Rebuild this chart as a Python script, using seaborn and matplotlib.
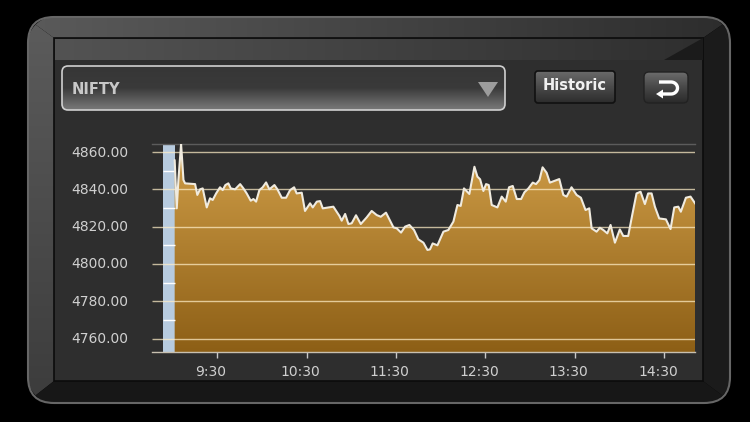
import numpy as np
import pandas as pd
import seaborn as sns
import matplotlib.pyplot as plt
from matplotlib.colors import LinearSegmentedColormap
from matplotlib.patches import FancyBboxPatch, Polygon
from matplotlib.transforms import ScaledTranslation

# minutes since midnight
minutes = [541.6, 543.0, 544.1, 545.9, 547.5, 548.6, 555.3, 556.8, 558.6, 560.4, 563.1, 565.3, 567.1, 569.4,
           572.0, 573.8, 575.6, 577.6, 579.2, 582.1, 585.5, 587.7, 589.9, 592.6, 594.4, 596.2, 598.4, 600.6,
           602.9, 605.1, 608.5, 610.5, 613.4, 616.3, 619.0, 621.7, 623.4, 626.8, 629.0, 632.4, 634.2, 636.9,
           639.1, 640.9, 648.0, 652.1, 653.6, 655.9, 658.1, 660.3, 663.2, 666.4, 670.4, 673.7, 677.1, 679.8,
           683.3, 686.0, 688.3, 690.5, 693.4, 696.1, 699.0, 702.1, 705.0, 708.4, 711.1, 712.8, 714.6, 717.8,
           721.8, 725.1, 728.5, 731.2, 733.4, 735.6, 739.2, 742.6, 744.6, 746.4, 748.6, 750.4, 752.2, 754.2,
           758.0, 760.9, 763.6, 765.8, 768.3, 771.0, 773.9, 776.1, 778.8, 781.7, 783.9, 786.2, 788.3, 791.0,
           793.2, 796.6, 799.5, 802.2, 804.4, 807.7, 811.1, 814.0, 817.1, 819.6, 821.2, 824.5, 826.7, 829.0,
           831.7, 833.9, 836.8, 840.1, 842.4, 845.7, 848.4, 851.3, 854.0, 856.9, 859.1, 861.4, 863.6, 866.5,
           871.0, 874.1, 876.6, 879.3, 881.0, 884.4, 887.5, 890.9]
prices = [4855.7, 4829.8, 4845.0, 4864.3, 4845.0, 4843.2, 4842.8, 4837.0, 4840.0, 4840.5, 4830.3, 4835.2, 4834.3, 4837.8,
          4841.1, 4839.6, 4842.3, 4843.2, 4840.5, 4840.0, 4842.8, 4840.5, 4837.8, 4833.9, 4834.8, 4833.4, 4839.6, 4841.1,
          4843.7, 4840.0, 4842.3, 4840.0, 4835.5, 4835.5, 4839.6, 4841.1, 4837.8, 4838.2, 4828.4, 4832.5, 4830.3, 4833.4,
          4833.7, 4829.8, 4830.7, 4825.7, 4823.2, 4826.8, 4821.4, 4821.8, 4826.1, 4821.4, 4825.0, 4828.4, 4826.2, 4825.3,
          4827.5, 4823.2, 4819.6, 4819.1, 4816.8, 4820.0, 4820.9, 4818.2, 4813.2, 4811.4, 4807.5, 4807.8, 4811.0, 4810.0,
          4817.3, 4818.2, 4822.7, 4831.6, 4831.1, 4840.5, 4837.5, 4852.1, 4846.8, 4845.4, 4839.1, 4842.8, 4842.3, 4831.6,
          4830.3, 4836.1, 4833.4, 4841.1, 4841.8, 4834.8, 4834.8, 4838.4, 4840.5, 4843.6, 4842.8, 4845.0, 4851.8, 4848.9,
          4843.6, 4844.6, 4845.5, 4837.0, 4836.1, 4841.1, 4837.0, 4835.5, 4828.9, 4829.8, 4819.1, 4817.3, 4819.4, 4818.2,
          4816.4, 4820.9, 4811.4, 4818.5, 4815.0, 4815.0, 4826.2, 4837.8, 4838.7, 4832.1, 4837.8, 4837.8, 4830.7, 4824.4,
          4823.9, 4818.7, 4830.3, 4830.7, 4828.0, 4835.5, 4836.1, 4832.1]
y_ticks = [4760, 4780, 4800, 4820, 4840, 4860]
band_ticks = [4770, 4790, 4810, 4830, 4850]
x_ticks = [570, 630, 690, 750, 810, 870]
x_labels = ['9:30', '10:30', '11:30', '12:30', '13:30', '14:30']

df = pd.DataFrame({'minute': minutes, 'price': prices})

sns.set_style('dark')
plt.rcParams['font.family'] = ['DejaVu Sans']

fig = plt.figure(figsize=(7.5, 4.22), dpi=100, facecolor='black')

# the device frame is drawn in pixel coordinates on a full figure axes
bg = fig.add_axes([0, 0, 1, 1])
bg.axis('off')


def gradient(ax, box, colors, horizontal=False, clip=None, zorder=1):
    cmap = LinearSegmentedColormap.from_list('g', colors)
    g = np.linspace(0, 1, 256)
    g = g.reshape(1, -1) if horizontal else g.reshape(-1, 1)
    im = ax.imshow(g, cmap=cmap, extent=(box[0], box[1], box[3], box[2]), aspect='auto',
                   origin='upper', zorder=zorder, interpolation='bilinear')
    if clip is not None:
        im.set_clip_path(clip)
    return im


def rounded(ax, x0, y0, x1, y1, r, **kw):
    p = FancyBboxPatch((x0 + r, y0 + r), x1 - x0 - 2 * r, y1 - y0 - 2 * r,
                       boxstyle=f'round,pad={r},rounding_size={r}', **kw)
    ax.add_patch(p)
    return p


def arc(cx, cy, a0, a1, r=26):
    a = np.radians(np.linspace(a0, a1, 12))
    return list(zip(cx + r * np.cos(a), cy + r * np.sin(a)))


def bevel(ax, pts):
    p = Polygon(pts, closed=True, fc='none', ec='none', zorder=2)
    ax.add_patch(p)
    return p


# bevels, split on the corner diagonals
top = bevel(bg, arc(54, 43, 225, 270) + arc(704, 43, 270, 315) + [(703, 38), (54, 38)])
gradient(bg, (28, 730, 17, 38), ['#5a5a5a', '#2d2d2d'], horizontal=True, clip=top, zorder=2)
left = bevel(bg, arc(54, 43, 225, 180) + arc(54, 377, 180, 135) + [(54, 381), (54, 38)])
gradient(bg, (28, 54, 17, 403), ['#5c5c5c', '#3c3c3c'], clip=left, zorder=2)
bg.add_patch(Polygon(arc(704, 377, 45, 90) + arc(54, 377, 90, 135) + [(54, 381), (703, 381)],
                     closed=True, fc='#171717', ec='none', zorder=2))
bg.add_patch(Polygon(arc(704, 43, 315, 360) + arc(704, 377, 0, 45) + [(703, 381), (703, 38)],
                     closed=True, fc='#1b1b1b', ec='none', zorder=2))
rounded(bg, 28, 17, 730, 403, 26, fc='none', ec='#666666', lw=1.5, zorder=3)

# inner panel
bg.add_patch(plt.Rectangle((54, 38), 649, 343, fc='#2e2e2e', ec='#0c0c0c', lw=1.2, zorder=3))
gradient(bg, (55, 702, 39, 60), ['#535353', '#2f2f2f'], horizontal=True, zorder=4)
bg.add_patch(Polygon([(664, 60), (703, 38), (703, 60)], closed=True, fc='#1b1b1b', ec='none', zorder=5))

# dropdown
drop = rounded(bg, 62, 66, 505, 110, 6, fc='none', ec='#d0d0d0', lw=1.2, zorder=6)
gradient(bg, (62, 505, 66, 110), ['#363636', '#3a3a3a', '#7a7a7a'], clip=drop, zorder=5)
bg.text(72, 89, 'NIFTY', color='#d8d8d8', fontsize=10.5, fontweight='bold', alpha=0.9, va='center', ha='left', zorder=7)
bg.add_patch(Polygon([(478, 82), (498, 82), (488, 97)], closed=True, fc='#9c9c9c', ec='none', zorder=7))

# Historic button
hist = rounded(bg, 535, 71, 615, 103, 3, fc='none', ec='#111111', lw=1.2, zorder=6)
gradient(bg, (535, 615, 71, 103), ['#6a6a6a', '#4a4a4a', '#2c2c2c'], clip=hist, zorder=5)
bg.text(575, 86, 'Historic', color='#f0f0f0', fontsize=10.5, fontweight='bold', va='center', ha='center', zorder=7)

# back button
back = rounded(bg, 644, 72, 688, 103, 5, fc='none', ec='#222222', lw=1, zorder=6)
gradient(bg, (644, 688, 72, 103), ['#6c6c6c', '#474747', '#2a2a2a'], clip=back, zorder=5)
t = np.linspace(-np.pi / 2, np.pi / 2, 20)
arrow_x = np.r_[659, 671, 671 + 6.5 * np.cos(t), 662]
arrow_y = np.r_[82, 82, 88 + 6 * np.sin(t), 94]
bg.plot(arrow_x, arrow_y, color='white', lw=2.4, solid_capstyle='butt', zorder=7)
bg.add_patch(Polygon([(656, 94), (663, 89.5), (663, 98.5)], closed=True, fc='white', ec='none', zorder=7))

bg.set_xlim(0, 750)
bg.set_ylim(422, 0)

# chart axes: x 152..695, y 144..352 in pixels
ax = fig.add_axes([152 / 750, 1 - 352 / 422, 543 / 750, 208 / 422])
ax.patch.set_alpha(0)
ax.set_xlim(526.4, 890.5)
ax.set_ylim(4752.8, 4864.3)

sns.lineplot(data=df, x='minute', y='price', estimator=None, color='#f0ebdf', lw=1.5, ax=ax, zorder=4)
fill = ax.fill_between(df.minute, df.price, 4752.8, color='none', lw=0, zorder=2)
grad = gradient(ax, (526.4, 890.5, 4864.3, 4752.8), ['#d09e48', '#8d5f16'], zorder=2)
grad.set_clip_path(fill.get_paths()[0], ax.transData)
ax.set_xlim(526.4, 890.5)
ax.set_ylim(4752.8, 4864.3)

# blue strip before the open, with its own small ticks
ax.axvspan(533.7, 541.6, color='#b7cbdf', lw=0, zorder=1)
ax.hlines(band_ticks, 533.7, 541.6, color='white', lw=1, zorder=2.5)

ax.hlines(y_ticks, 526.4, 890.5, color='#ffeec8', lw=1, alpha=0.72, zorder=3)

for s in ['left', 'right']:
    ax.spines[s].set_visible(False)
ax.spines['top'].set_color('#5c5c5c')
ax.spines['top'].set_linewidth(1)
ax.spines['bottom'].set_color('#c8c0b0')
ax.spines['bottom'].set_linewidth(1)

ax.grid(False)
ax.set_xlabel('')
ax.set_ylabel('')
ax.set_yticks(y_ticks)
ax.set_yticklabels([f'{v:.2f}' for v in y_ticks])
ax.set_xticks(x_ticks)
ax.set_xticklabels(x_labels)
ax.tick_params(axis='y', length=0, pad=17, labelcolor='#d0d0d0', labelsize=10)
ax.tick_params(axis='x', bottom=True, length=4, width=1, color='#c8c8c8', pad=5, labelcolor='#d0d0d0', labelsize=10)
offset = ScaledTranslation(-6.5 / 100, 0, fig.dpi_scale_trans)
for lab in ax.get_xticklabels():
    lab.set_transform(lab.get_transform() + offset)
y_offset = ScaledTranslation(0, 1 / 100, fig.dpi_scale_trans)
for lab in ax.get_yticklabels():
    lab.set_transform(lab.get_transform() + y_offset)

fig.savefig('out.png', dpi=100, facecolor='black')
